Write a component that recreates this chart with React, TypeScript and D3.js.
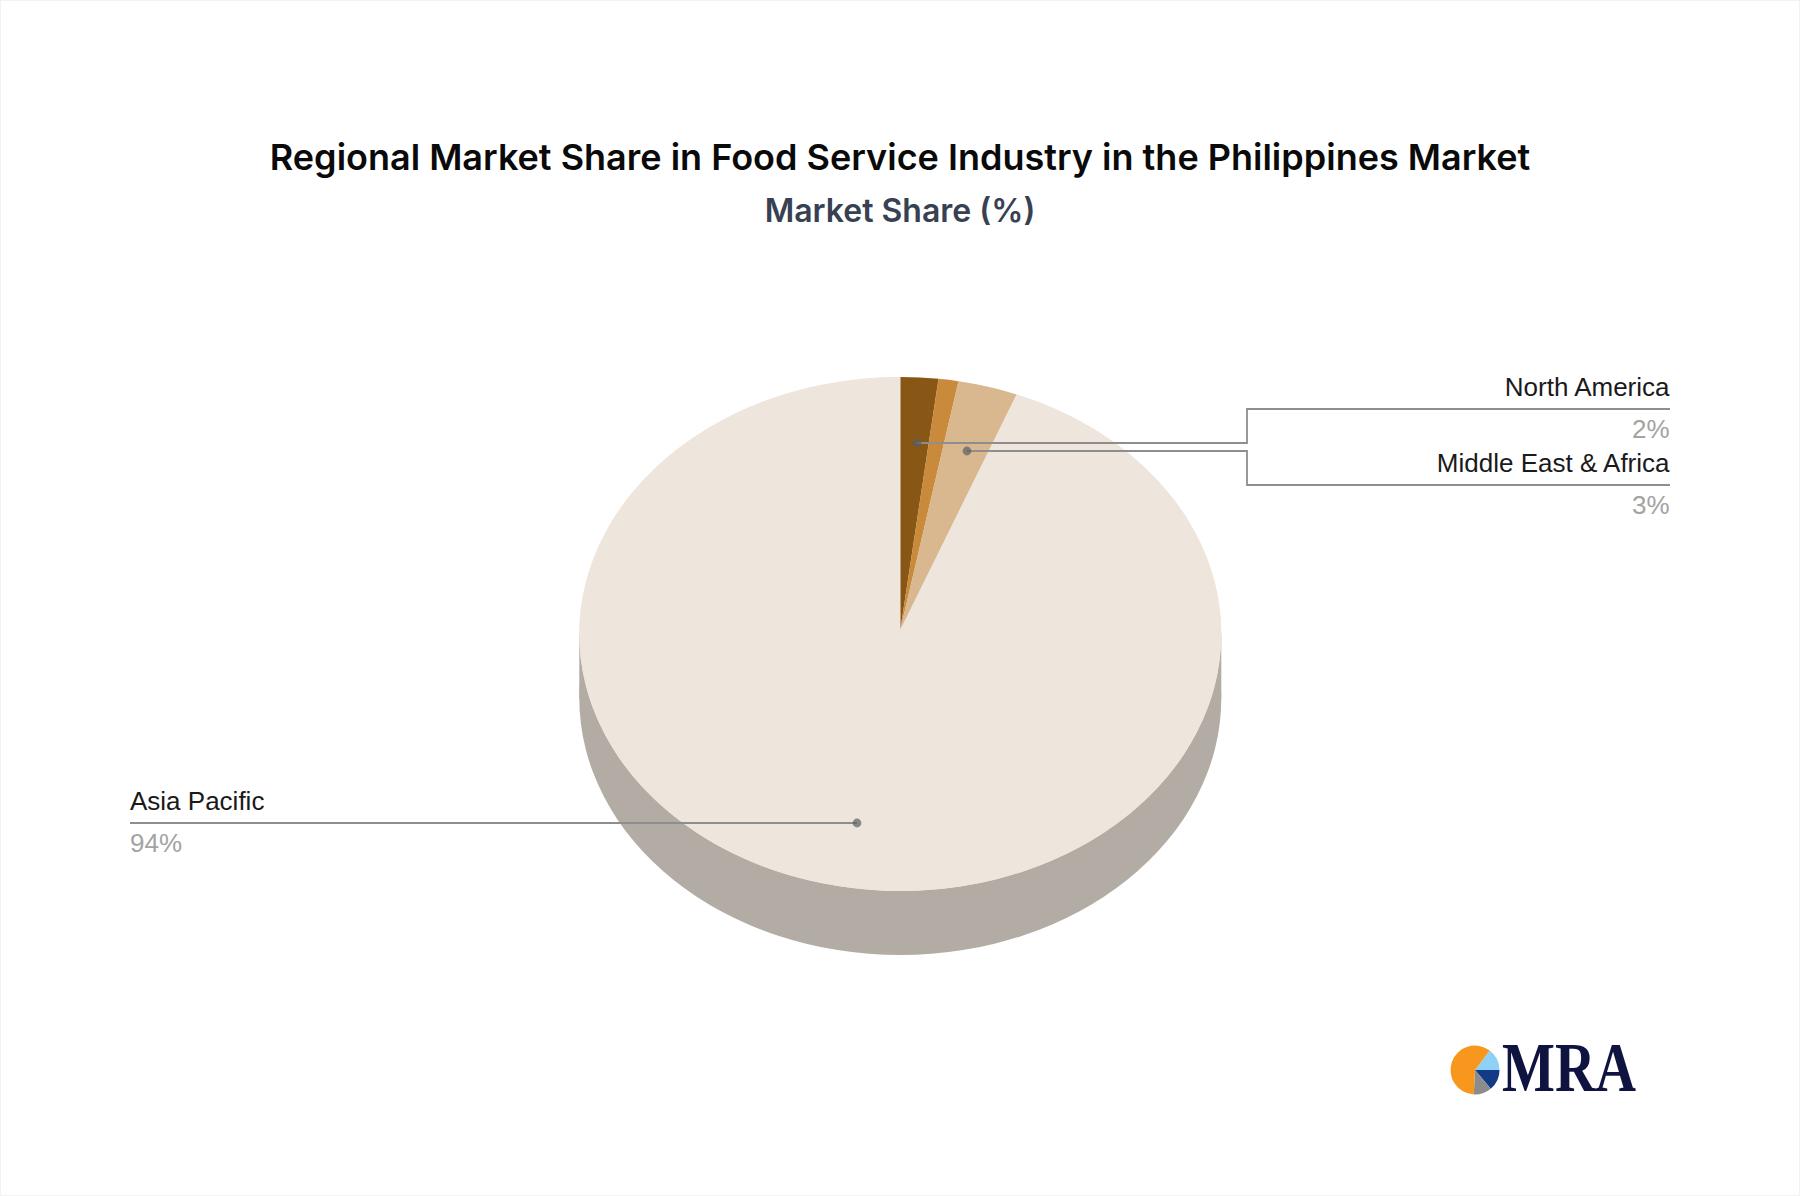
import React, { useMemo } from "react";
import * as d3 from "d3";

const categories = ["North America", "Other", "Middle East & Africa", "Asia Pacific"];
const shares = [1.9, 1.0, 3.0, 94.1];
const sliceColors = ["#885615", "#ca8a3c", "#d9b88f", "#eee6dd"];
const labelled = [
  { name: "North America", value: "2%" },
  { name: "Middle East & Africa", value: "3%" },
  { name: "Asia Pacific", value: "94%" },
];
const logoShares = [14.7, 13.9, 11.9, 59.5];
const logoColors = ["#8fd0f5", "#133a86", "#8c8c8c", "#f7971e"];

const W = 1800;
const H = 1196;
const CX = 900.3;
const CY = 634;
const RX = 321;
const RY = 257;
const APEX_Y = 630;
const DEPTH = 64;

const pieGen = d3.pie<number>().sort(null);

function slicePath(a0: number, a1: number) {
  const px = (a: number) => CX + RX * Math.sin(a);
  const py = (a: number) => CY - RY * Math.cos(a);
  const large = a1 - a0 > Math.PI ? 1 : 0;
  return `M${CX},${APEX_Y}L${px(a0)},${py(a0)}A${RX},${RY} 0 ${large} 1 ${px(a1)},${py(a1)}Z`;
}

function Leader({ pts, dot }: { pts: [number, number][]; dot: [number, number] }) {
  const line = d3.line()(pts) as string;
  return (
    <g>
      <path d={line} fill="none" stroke="#8e8e8e" strokeWidth={1.8} />
      <circle cx={dot[0]} cy={dot[1]} r={4.4} fill="#5c5c66" fillOpacity={0.7} />
    </g>
  );
}

function Label({ x, y1, y2, anchor, item }: { x: number; y1: number; y2: number; anchor: string; item: { name: string; value: string } }) {
  const font = "'Liberation Sans', Arial, sans-serif";
  return (
    <g fontFamily={font} fontSize={26} textAnchor={anchor}>
      <text x={x} y={y1} fill="#1a1a1a">{item.name}</text>
      <text x={x} y={y2} fill="#a3a3a3">{item.value}</text>
    </g>
  );
}

export default function App() {
  const arcs = useMemo(() => pieGen(shares), []);
  const logoStart = (37 * Math.PI) / 180;
  const logoArcs = useMemo(
    () => d3.pie<number>().sort(null).startAngle(logoStart).endAngle(logoStart + 2 * Math.PI)(logoShares),
    []
  );
  const logoArc = d3.arc<d3.PieArcDatum<number>>().innerRadius(0).outerRadius(24.5);

  return (
    <svg
      width={W}
      height={H}
      viewBox={`0 0 ${W} ${H}`}
      style={{ position: "absolute", left: 0, top: 0, background: "#fff" }}
    >
      <rect x={0.5} y={0.5} width={W - 1} height={H - 1} fill="#fff" stroke="#f2f2f2" />
      <g fontFamily="Inter, sans-serif" fontWeight={600} textAnchor="middle">
        <text x={900} y={170} fontSize={36} fill="#0a0a0a">
          Regional Market Share in Food Service Industry in the Philippines Market
        </text>
        <text x={900} y={222} fontSize={32} fill="#374151">Market Share (%)</text>
      </g>

      <ellipse cx={CX} cy={CY + DEPTH} rx={RX} ry={RY} fill="#b3aca4" />
      <rect x={CX - RX} y={CY} width={RX * 2} height={DEPTH} fill="#b3aca4" />
      <ellipse cx={CX} cy={CY} rx={RX} ry={RY} fill={sliceColors[3]} />
      {arcs.map((a, i) => (
        <path key={categories[i]} d={slicePath(a.startAngle, a.endAngle)} fill={sliceColors[i]} />
      ))}

      <Leader pts={[[917, 443], [1247, 443], [1247, 409], [1670, 409]]} dot={[917, 443]} />
      <Leader pts={[[967, 451], [1247, 451], [1247, 485], [1670, 485]]} dot={[967, 451]} />
      <Leader pts={[[857, 823], [130, 823]]} dot={[857, 823]} />

      <Label x={1669.5} y1={396} y2={438} anchor="end" item={labelled[0]} />
      <Label x={1669.5} y1={472} y2={514} anchor="end" item={labelled[1]} />
      <Label x={130} y1={810} y2={852} anchor="start" item={labelled[2]} />

      <g transform="translate(1475,1070)">
        {logoArcs.map((a, i) => (
          <path key={i} d={logoArc(a) as string} fill={logoColors[i]} />
        ))}
      </g>
      <text
        x={1502}
        y={1091}
        fontFamily="'Liberation Serif', serif"
        fontWeight={700}
        fontSize={69}
        fill="#0f1340"
        textLength={134}
        lengthAdjust="spacingAndGlyphs"
      >
        MRA
      </text>
    </svg>
  );
}
